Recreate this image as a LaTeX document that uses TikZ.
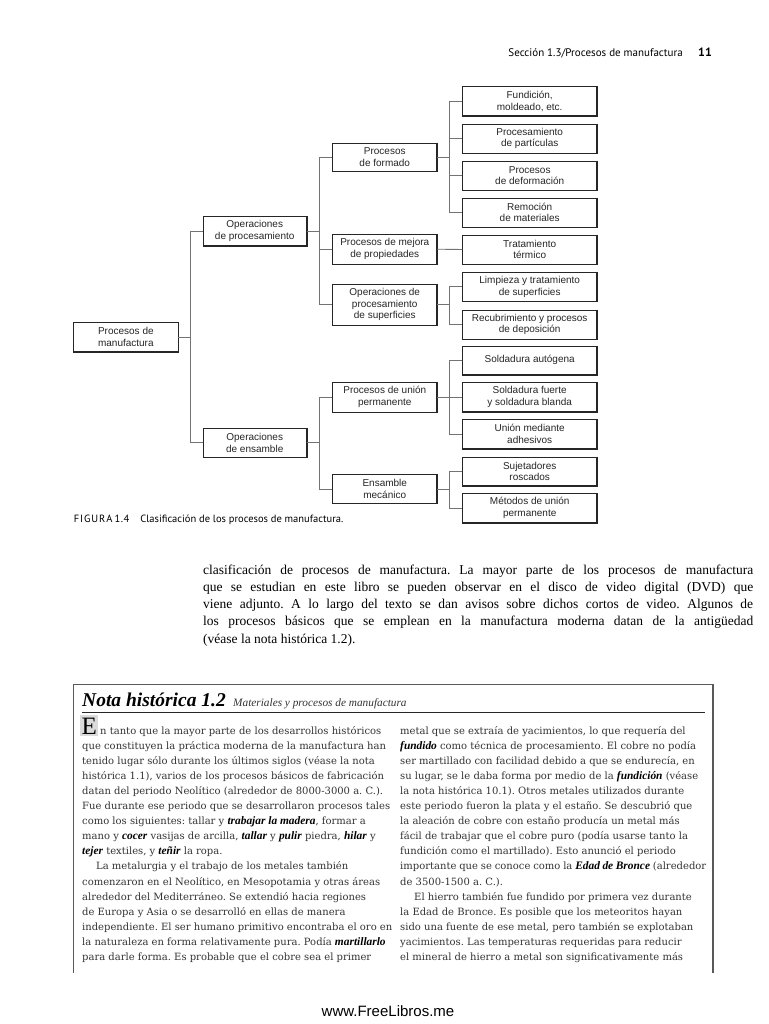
\documentclass[tikz,border=0pt]{standalone}
\usepackage{fontspec}
\setmainfont{Liberation Serif}
\newfontfamily\arialf{Liberation Sans}
\newfontfamily\condf{PT Sans}
\newfontfamily\notaf{DejaVu Serif}
\newfontfamily\notabi{Liberation Serif}
\usetikzlibrary{calc}
\newcommand{\bi}[1]{{\notabi\bfseries\itshape\fontsize{11.4}{15}\selectfont\color{black}#1}}
\newcommand{\jl}[1]{\makebox[550pt][s]{#1}}
\newcommand{\figlbl}{F\kern0.9pt I\kern0.9pt G\kern0.9pt U\kern0.9pt R\kern0.9pt A\kern2.2pt 1\kern0.5pt.\kern0.5pt 4}
\frenchspacing
\begin{document}
\begin{tikzpicture}[x=1pt,y=-1pt,
  box/.style={draw=black!85, line width=0.6pt, fill=white, align=center,
    font=\arialf\fontsize{10}{11.7}\selectfont, inner sep=0pt, text=black!85},
  lbox/.style={box, minimum width=103.6pt, minimum height=28.8pt},
  mbox/.style={box, minimum width=104pt, minimum height=29pt},
  rbox/.style={box, minimum width=134pt, minimum height=29pt},
  conn/.style={draw=black!55, line width=0.9pt},
  edge/.style={draw=black!85, line width=1.4pt},
  notatxt/.style={anchor=base west, inner sep=0pt, text=black!80,
    font=\notaf\fontsize{10}{15}\selectfont},
  bodytxt/.style={anchor=base west, inner sep=0pt, text=black,
    font=\fontsize{13.5}{17}\selectfont}]
\useasboundingbox[fill=white] (0,0) rectangle (768,1024);

% header
\node[anchor=base east, inner sep=0pt] (hdr) at (683,57) {\condf\fontsize{11}{12}\selectfont Sección 1.3/Procesos de manufactura};
\node[anchor=base east, inner sep=0pt] (pg) at (712,57) {\condf\bfseries\fontsize{12}{14}\selectfont 11};

% coordinates of trunks
\coordinate (t1) at (190,0);
\coordinate (t2) at (319.3,0);
\coordinate (t3) at (449.5,0);

% level 0/1
\node[lbox, minimum width=104.3pt] (pm) at (125.85,337.1) {Procesos de\\manufactura};
\node[lbox] (op) at (254.7,231.1) {Operaciones\\de procesamiento};
\node[lbox] (oe) at (254.7,442.9) {Operaciones\\de ensamble};

% level 2
\node[mbox, minimum height=28.5pt] (pf) at (384.75,157.2) {Procesos\\de formado};
\node[mbox, minimum height=29.7pt] (pmp) at (384.75,249.2) {Procesos de mejora\\de propiedades};
\node[mbox, minimum height=41pt] (ops) at (384.75,304.5) {Operaciones de\\procesamiento\\de superficies};
\node[mbox, minimum height=29.7pt] (pu) at (384.75,397.2) {Procesos de unión\\permanente};
\node[mbox, minimum height=28.6pt] (em) at (384.75,489) {Ensamble\\mecánico};

% level 3
\node[rbox] (fund) at (529.7,101.3) {Fundición,\\moldeado, etc.};
\node[rbox] (part) at (529.7,138.5) {Procesamiento\\de partículas};
\node[rbox] (defo) at (529.7,175.5) {Procesos\\de deformación};
\node[rbox] (remo) at (529.7,212.5) {Remoción\\de materiales};
\node[rbox] (trat) at (529.7,249.5) {Tratamiento\\térmico};
\node[rbox] (limp) at (529.7,286.7) {Limpieza y tratamiento\\de superficies};
\node[rbox] (recu) at (529.7,324.5) {Recubrimiento y procesos\\de deposición};
\node[rbox] (sold) at (529.7,360.3) {Soldadura autógena};
\node[rbox] (fuer) at (529.7,397.2) {Soldadura fuerte\\y soldadura blanda};
\node[rbox] (adhe) at (529.7,434) {Unión mediante\\adhesivos};
\node[rbox] (suje) at (529.7,471.3) {Sujetadores\\roscados};
\node[rbox] (meto) at (529.7,508) {Métodos de unión\\permanente};

% heavier right/bottom edges
\foreach \n in {pm,op,oe,pf,pmp,ops,pu,em,fund,part,defo,remo,trat,limp,recu,sold,fuer,adhe,suje,meto}
  \draw[edge] (\n.north east) -- (\n.south east) -- (\n.south west);

% connectors
\draw[conn] (pm.east) -- (pm.east -| t1);
\draw[conn] (op.west) -- (op.west -| t1) |- (oe.west);
\draw[conn] (op.east) -- (op.east -| t2);
\draw[conn] (pf.west) -- (pf.west -| t2) |- (ops.west);
\draw[conn] (pmp.west) -- (pmp.west -| t2);
\draw[conn] (oe.east) -- (oe.east -| t2);
\draw[conn] (pu.west) -- (pu.west -| t2) |- (em.west);
\draw[conn] (pf.east) -- (pf.east -| t3);
\draw[conn] (fund.west) -- (fund.west -| t3) |- (remo.west);
\draw[conn] (part.west) -- (part.west -| t3);
\draw[conn] (defo.west) -- (defo.west -| t3);
\draw[conn] (pmp.east) -- (trat.west);
\draw[conn] (ops.east) -- (ops.east -| t3);
\draw[conn] (limp.west) -- (limp.west -| t3) |- (recu.west);
\draw[conn] (pu.east) -- (pu.east -| t3);
\draw[conn] (sold.west) -- (sold.west -| t3) |- (adhe.west);
\draw[conn] (fuer.west) -- (fuer.west -| t3);
\draw[conn] (em.east) -- (em.east -| t3);
\draw[conn] (suje.west) -- (suje.west -| t3) |- (meto.west);

% caption
\node[anchor=base west, inner sep=0pt] (cap) at (73.6,522) {\condf\fontsize{10.5}{12}\selectfont \figlbl\hspace{11pt}Clasificación de los procesos de manufactura.};

% body paragraph
\node[bodytxt] (b1) at (203,574) {\jl{clasificación de procesos de manufactura. La mayor parte de los procesos de manufactura}};
\node[bodytxt] (b2) at (203,591.3) {\jl{que se estudian en este libro se pueden observar en el disco de video digital (DVD) que}};
\node[bodytxt] (b3) at (203,608.6) {\jl{viene adjunto. A lo largo del texto se dan avisos sobre dichos cortos de video. Algunos de}};
\node[bodytxt] (b4) at (203,625.9) {\jl{los procesos básicos que se emplean en la manufactura moderna datan de la antigüedad}};
\node[bodytxt] (b5) at (203,643.2) {(véase la nota histórica 1.2).};

% Nota historica box
\draw[draw=black!65, line width=1.1pt] (73.5,973) -- (73.5,684.5) -- (713,684.5) -- (713,973);
\node[anchor=base west, inner sep=0pt] (tt) at (82,706) {\fontsize{19.5}{22}\selectfont\bfseries\itshape Nota histórica 1.2};
\node[anchor=base west, inner sep=0pt, text=black!80] (st) at (233,706) {\fontsize{11.3}{13}\selectfont\itshape Materiales y procesos de manufactura};
\draw[black!85, line width=0.8pt] (82,712) -- (705,712);

% drop cap
\node[fill=black!14, minimum width=18pt, minimum height=21pt, inner sep=0pt, anchor=south west] (dc) at (80,736) {};
\node[anchor=base, inner sep=0pt] (dcE) at (dc.center |- 0,734) {\fontsize{25}{25}\selectfont E};

% left column
\node[notatxt] (l1) at (100,734) {n tanto que la mayor parte de los desarrollos históricos};
\foreach \t [count=\i from 2] in {
 {que constituyen la práctica moderna de la manufactura han},
 {tenido lugar sólo durante los últimos siglos (véase la nota},
 {histórica 1.1), varios de los procesos básicos de fabricación},
 {datan del periodo Neolítico (alrededor de 8000-3000 a. C.).},
 {Fue durante ese periodo que se desarrollaron procesos tales},
 {como los siguientes: tallar y \bi{trabajar la madera}, formar a},
 {mano y \bi{cocer} vasijas de arcilla, \bi{tallar} y \bi{pulir} piedra, \bi{hilar} y},
 {\bi{tejer} textiles, y \bi{teñir} la ropa.},
 {\hspace*{14pt}La metalurgia y el trabajo de los metales también},
 {comenzaron en el Neolítico, en Mesopotamia y otras áreas},
 {alrededor del Mediterráneo. Se extendió hacia regiones},
 {de Europa y Asia o se desarrolló en ellas de manera},
 {independiente. El ser humano primitivo encontraba el oro en},
 {la naturaleza en forma relativamente pura. Podía \bi{martillarlo}},
 {para darle forma. Es probable que el cobre sea el primer}}
 \node[notatxt] (l\i) at (82,{734+15.1*(\i-1)}) {\t};

% right column
\foreach \t [count=\i] in {
 {metal que se extraía de yacimientos, lo que requería del},
 {\bi{fundido} como técnica de procesamiento. El cobre no podía},
 {ser martillado con facilidad debido a que se endurecía, en},
 {su lugar, se le daba forma por medio de la \bi{fundición} (véase},
 {la nota histórica 10.1). Otros metales utilizados durante},
 {este periodo fueron la plata y el estaño. Se descubrió que},
 {la aleación de cobre con estaño producía un metal más},
 {fácil de trabajar que el cobre puro (podía usarse tanto la},
 {fundición como el martillado). Esto anunció el periodo},
 {\makebox[306pt][s]{importante que se conoce como la \bi{Edad de Bronce} (alrededor}},
 {de 3500-1500 a. C.).},
 {\hspace*{14pt}El hierro también fue fundido por primera vez durante},
 {la Edad de Bronce. Es posible que los meteoritos hayan},
 {sido una fuente de ese metal, pero también se explotaban},
 {yacimientos. Las temperaturas requeridas para reducir},
 {el mineral de hierro a metal son significativamente más}}
 \node[notatxt] (r\i) at (400,{734+15.1*(\i-1)}) {\t};

% footer
\node[inner sep=0pt] (ft) at (388,1011) {\arialf\fontsize{15}{16}\selectfont www.FreeLibros.me};
\end{tikzpicture}
\end{document}
